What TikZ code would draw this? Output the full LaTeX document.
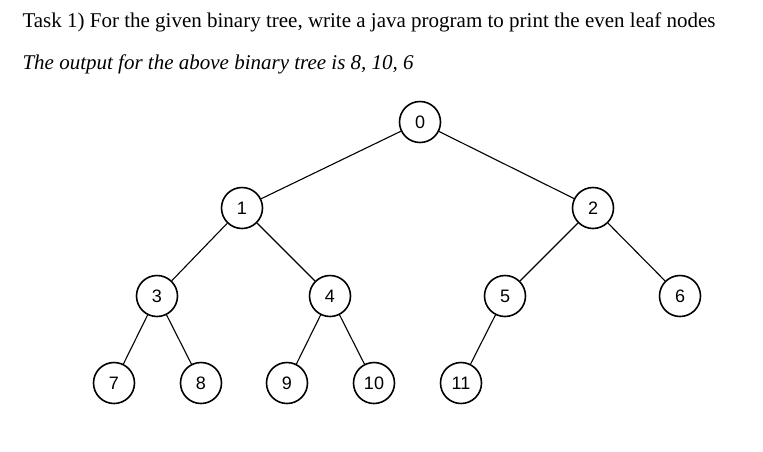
\documentclass[tikz,border=0pt]{standalone}
\usepackage{fontspec}
\setmainfont{Liberation Serif}
\newfontfamily\nodefont{Liberation Sans}
\begin{document}
\begin{tikzpicture}[x=1pt,y=-1pt,
  tn/.style={circle,draw,line width=1.6pt,minimum size=41pt,inner sep=0pt,font=\nodefont\fontsize{18}{18}\selectfont},
  ed/.style={line width=1.1pt}]
\useasboundingbox (0,0) rectangle (763,451);
\node[anchor=west,font=\fontsize{21}{24}\selectfont] (t1) at (19,22) {Task 1) For the given binary tree, write a java program to print the even leaf nodes};
\node[anchor=west,font=\itshape\fontsize{21}{24}\selectfont] (t2) at (19,64) {The output for the above binary tree is 8, 10, 6};
\node[tn] (n0) at (420,122) {0};
\node[tn] (n1) at (242,208) {1};
\node[tn] (n2) at (593,208) {2};
\node[tn] (n3) at (157,296) {3};
\node[tn] (n4) at (330,296) {4};
\node[tn] (n5) at (505,296) {5};
\node[tn] (n6) at (680,296) {6};
\node[tn] (n7) at (114,383) {7};
\node[tn] (n8) at (201,383) {8};
\node[tn] (n9) at (287,383) {9};
\node[tn] (n10) at (374,383) {10};
\node[tn] (n11) at (461,383) {11};
\draw[ed] (n0)--(n1); \draw[ed] (n0)--(n2);
\draw[ed] (n1)--(n3); \draw[ed] (n1)--(n4);
\draw[ed] (n2)--(n5); \draw[ed] (n2)--(n6);
\draw[ed] (n3)--(n7); \draw[ed] (n3)--(n8);
\draw[ed] (n4)--(n9); \draw[ed] (n4)--(n10);
\draw[ed] (n5)--(n11);
\end{tikzpicture}
\end{document}
